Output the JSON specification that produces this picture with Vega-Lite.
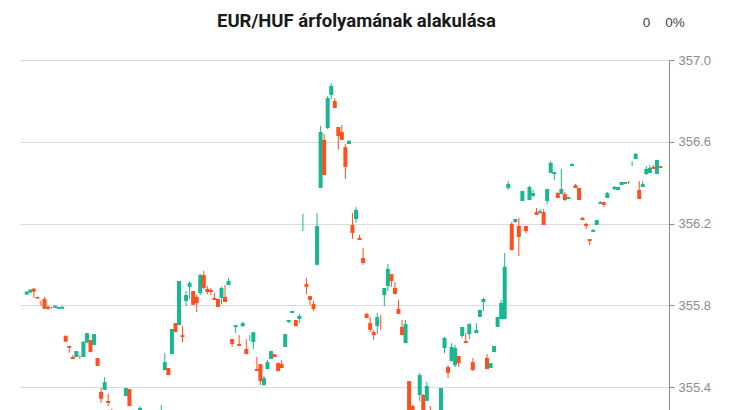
{
  "$schema": "https://vega.github.io/schema/vega-lite/v6.json",
  "width": 649,
  "height": 350,
  "autosize": {"type": "none"},
  "padding": {"left": 20, "top": 60, "right": 61, "bottom": 0},
  "background": "white",
  "title": {
    "text": "EUR/HUF árfolyamának alakulása",
    "font": "Roboto",
    "fontSize": 18.5,
    "fontWeight": "bold",
    "color": "#1a1a1a",
    "anchor": "middle",
    "frame": "group",
    "dx": 12,
    "offset": -15
  },
  "config": {
    "view": {"stroke": null}
  },
  "data": {
    "values": [
      {"i": 0, "o": 355.852, "h": 355.867, "l": 355.852, "c": 355.867},
      {"i": 1, "o": 355.862, "h": 355.877, "l": 355.862, "c": 355.877},
      {"i": 2, "o": 355.881, "h": 355.885, "l": 355.837, "c": 355.867},
      {"i": 3, "o": 355.841, "h": 355.841, "l": 355.833, "c": 355.833},
      {"i": 4, "o": 355.812, "h": 355.823, "l": 355.798, "c": 355.811},
      {"i": 5, "o": 355.831, "h": 355.841, "l": 355.783, "c": 355.783},
      {"i": 6, "o": 355.793, "h": 355.798, "l": 355.778, "c": 355.783},
      {"i": 7, "o": 355.789, "h": 355.792, "l": 355.783, "c": 355.788},
      {"i": 8, "o": 355.788, "h": 355.798, "l": 355.788, "c": 355.798},
      {"i": 9, "o": 355.783, "h": 355.792, "l": 355.783, "c": 355.792},
      {"i": 10, "o": 355.783, "h": 355.798, "l": 355.783, "c": 355.792},
      {"i": 11, "o": 355.651, "h": 355.651, "l": 355.622, "c": 355.622},
      {"i": 12, "o": 355.601, "h": 355.601, "l": 355.568, "c": 355.592},
      {"i": 13, "o": 355.547, "h": 355.557, "l": 355.537, "c": 355.537},
      {"i": 14, "o": 355.547, "h": 355.576, "l": 355.547, "c": 355.576},
      {"i": 15, "o": 355.548, "h": 355.557, "l": 355.537, "c": 355.547},
      {"i": 16, "o": 355.547, "h": 355.622, "l": 355.547, "c": 355.622},
      {"i": 17, "o": 355.617, "h": 355.664, "l": 355.617, "c": 355.664},
      {"i": 18, "o": 355.630, "h": 355.630, "l": 355.571, "c": 355.571},
      {"i": 19, "o": 355.606, "h": 355.659, "l": 355.606, "c": 355.659},
      {"i": 20, "o": 355.542, "h": 355.542, "l": 355.503, "c": 355.503},
      {"i": 21, "o": 355.376, "h": 355.395, "l": 355.322, "c": 355.342},
      {"i": 22, "o": 355.386, "h": 355.449, "l": 355.386, "c": 355.424},
      {"i": 23, "o": 355.332, "h": 355.366, "l": 355.307, "c": 355.322},
      {"i": 24, "o": 355.273, "h": 355.293, "l": 355.219, "c": 355.239},
      {"i": 28, "o": 355.356, "h": 355.395, "l": 355.356, "c": 355.395},
      {"i": 29, "o": 355.390, "h": 355.390, "l": 355.307, "c": 355.307},
      {"i": 32, "o": 355.239, "h": 355.307, "l": 355.214, "c": 355.298},
      {"i": 38, "o": 355.214, "h": 355.312, "l": 355.200, "c": 355.278},
      {"i": 39, "o": 355.483, "h": 355.566, "l": 355.483, "c": 355.522},
      {"i": 40, "o": 355.493, "h": 355.493, "l": 355.459, "c": 355.459},
      {"i": 41, "o": 355.561, "h": 355.684, "l": 355.561, "c": 355.684},
      {"i": 42, "o": 355.713, "h": 355.713, "l": 355.669, "c": 355.669},
      {"i": 43, "o": 355.703, "h": 355.919, "l": 355.703, "c": 355.919},
      {"i": 44, "o": 355.654, "h": 355.698, "l": 355.620, "c": 355.645},
      {"i": 45, "o": 355.821, "h": 355.870, "l": 355.796, "c": 355.850},
      {"i": 46, "o": 355.890, "h": 355.919, "l": 355.831, "c": 355.909},
      {"i": 47, "o": 355.870, "h": 355.870, "l": 355.802, "c": 355.802},
      {"i": 48, "o": 355.841, "h": 355.850, "l": 355.767, "c": 355.811},
      {"i": 49, "o": 355.860, "h": 355.953, "l": 355.850, "c": 355.948},
      {"i": 50, "o": 355.948, "h": 355.968, "l": 355.880, "c": 355.885},
      {"i": 51, "o": 355.880, "h": 355.894, "l": 355.855, "c": 355.865},
      {"i": 52, "o": 355.875, "h": 355.885, "l": 355.850, "c": 355.865},
      {"i": 53, "o": 355.836, "h": 355.860, "l": 355.826, "c": 355.826},
      {"i": 54, "o": 355.831, "h": 355.831, "l": 355.792, "c": 355.792},
      {"i": 55, "o": 355.836, "h": 355.890, "l": 355.806, "c": 355.885},
      {"i": 56, "o": 355.841, "h": 355.899, "l": 355.816, "c": 355.816},
      {"i": 57, "o": 355.899, "h": 355.934, "l": 355.899, "c": 355.919},
      {"i": 58, "o": 355.635, "h": 355.635, "l": 355.596, "c": 355.611},
      {"i": 59, "o": 355.694, "h": 355.703, "l": 355.664, "c": 355.703},
      {"i": 60, "o": 355.611, "h": 355.654, "l": 355.601, "c": 355.601},
      {"i": 61, "o": 355.698, "h": 355.718, "l": 355.694, "c": 355.713},
      {"i": 62, "o": 355.586, "h": 355.635, "l": 355.561, "c": 355.561},
      {"i": 63, "o": 355.640, "h": 355.654, "l": 355.625, "c": 355.640},
      {"i": 64, "o": 355.620, "h": 355.669, "l": 355.586, "c": 355.669},
      {"i": 65, "o": 355.488, "h": 355.547, "l": 355.478, "c": 355.478},
      {"i": 66, "o": 355.512, "h": 355.512, "l": 355.410, "c": 355.429},
      {"i": 67, "o": 355.410, "h": 355.454, "l": 355.405, "c": 355.444},
      {"i": 68, "o": 355.488, "h": 355.532, "l": 355.488, "c": 355.522},
      {"i": 69, "o": 355.537, "h": 355.576, "l": 355.537, "c": 355.576},
      {"i": 70, "o": 355.561, "h": 355.561, "l": 355.547, "c": 355.547},
      {"i": 71, "o": 355.517, "h": 355.522, "l": 355.478, "c": 355.478},
      {"i": 72, "o": 355.512, "h": 355.532, "l": 355.493, "c": 355.493},
      {"i": 73, "o": 355.596, "h": 355.659, "l": 355.596, "c": 355.659},
      {"i": 74, "o": 355.718, "h": 355.728, "l": 355.713, "c": 355.728},
      {"i": 75, "o": 355.762, "h": 355.772, "l": 355.762, "c": 355.772},
      {"i": 76, "o": 355.728, "h": 355.728, "l": 355.698, "c": 355.698},
      {"i": 77, "o": 355.733, "h": 355.758, "l": 355.713, "c": 355.748},
      {"i": 78, "o": 356.166, "h": 356.247, "l": 356.163, "c": 356.166},
      {"i": 79, "o": 355.904, "h": 355.934, "l": 355.855, "c": 355.890},
      {"i": 80, "o": 355.845, "h": 355.845, "l": 355.802, "c": 355.826},
      {"i": 81, "o": 355.806, "h": 355.821, "l": 355.772, "c": 355.782},
      {"i": 82, "o": 355.998, "h": 356.252, "l": 355.998, "c": 356.188},
      {"i": 83, "o": 356.374, "h": 356.677, "l": 356.374, "c": 356.648},
      {"i": 84, "o": 356.609, "h": 356.638, "l": 356.437, "c": 356.437},
      {"i": 85, "o": 356.667, "h": 356.824, "l": 356.662, "c": 356.814},
      {"i": 86, "o": 356.829, "h": 356.887, "l": 356.809, "c": 356.873},
      {"i": 87, "o": 356.799, "h": 356.814, "l": 356.765, "c": 356.765},
      {"i": 88, "o": 356.672, "h": 356.672, "l": 356.560, "c": 356.628},
      {"i": 89, "o": 356.648, "h": 356.682, "l": 356.609, "c": 356.609},
      {"i": 90, "o": 356.574, "h": 356.589, "l": 356.418, "c": 356.477},
      {"i": 91, "o": 356.589, "h": 356.609, "l": 356.589, "c": 356.604},
      {"i": 92, "o": 356.193, "h": 356.252, "l": 356.124, "c": 356.154},
      {"i": 93, "o": 356.222, "h": 356.281, "l": 356.203, "c": 356.266},
      {"i": 94, "o": 356.129, "h": 356.144, "l": 356.119, "c": 356.119},
      {"i": 95, "o": 356.031, "h": 356.080, "l": 355.998, "c": 356.007},
      {"i": 96, "o": 355.758, "h": 355.762, "l": 355.738, "c": 355.738},
      {"i": 97, "o": 355.713, "h": 355.743, "l": 355.669, "c": 355.679},
      {"i": 98, "o": 355.669, "h": 355.679, "l": 355.630, "c": 355.654},
      {"i": 99, "o": 355.698, "h": 355.762, "l": 355.659, "c": 355.743},
      {"i": 100, "o": 355.717, "h": 355.753, "l": 355.679, "c": 355.716},
      {"i": 101, "o": 355.850, "h": 355.885, "l": 355.796, "c": 355.885},
      {"i": 102, "o": 355.894, "h": 356.002, "l": 355.870, "c": 355.978},
      {"i": 103, "o": 355.953, "h": 355.953, "l": 355.890, "c": 355.919},
      {"i": 104, "o": 355.885, "h": 355.914, "l": 355.855, "c": 355.855},
      {"i": 105, "o": 355.782, "h": 355.826, "l": 355.758, "c": 355.758},
      {"i": 106, "o": 355.694, "h": 355.728, "l": 355.654, "c": 355.654},
      {"i": 107, "o": 355.615, "h": 355.728, "l": 355.615, "c": 355.708},
      {"i": 108, "o": 355.429, "h": 355.429, "l": 355.249, "c": 355.249},
      {"i": 109, "o": 355.307, "h": 355.312, "l": 355.239, "c": 355.239},
      {"i": 111, "o": 355.361, "h": 355.469, "l": 355.332, "c": 355.459},
      {"i": 112, "o": 355.361, "h": 355.366, "l": 355.239, "c": 355.239},
      {"i": 113, "o": 355.332, "h": 355.424, "l": 355.332, "c": 355.405},
      {"i": 114, "o": 355.278, "h": 355.307, "l": 355.230, "c": 355.239},
      {"i": 117, "o": 355.263, "h": 355.395, "l": 355.254, "c": 355.395},
      {"i": 118, "o": 355.591, "h": 355.645, "l": 355.566, "c": 355.640},
      {"i": 119, "o": 355.498, "h": 355.507, "l": 355.444, "c": 355.469},
      {"i": 120, "o": 355.527, "h": 355.615, "l": 355.527, "c": 355.596},
      {"i": 121, "o": 355.507, "h": 355.606, "l": 355.498, "c": 355.591},
      {"i": 122, "o": 355.552, "h": 355.552, "l": 355.498, "c": 355.517},
      {"i": 123, "o": 355.650, "h": 355.694, "l": 355.640, "c": 355.694},
      {"i": 124, "o": 355.625, "h": 355.664, "l": 355.615, "c": 355.615},
      {"i": 125, "o": 355.659, "h": 355.713, "l": 355.635, "c": 355.708},
      {"i": 126, "o": 355.522, "h": 355.542, "l": 355.478, "c": 355.483},
      {"i": 127, "o": 355.664, "h": 355.713, "l": 355.664, "c": 355.679},
      {"i": 128, "o": 355.743, "h": 355.777, "l": 355.743, "c": 355.777},
      {"i": 129, "o": 355.816, "h": 355.836, "l": 355.772, "c": 355.831},
      {"i": 130, "o": 355.542, "h": 355.561, "l": 355.488, "c": 355.488},
      {"i": 131, "o": 355.493, "h": 355.517, "l": 355.493, "c": 355.517},
      {"i": 132, "o": 355.571, "h": 355.601, "l": 355.571, "c": 355.601},
      {"i": 133, "o": 355.694, "h": 355.743, "l": 355.694, "c": 355.743},
      {"i": 134, "o": 355.733, "h": 355.826, "l": 355.733, "c": 355.811},
      {"i": 135, "o": 355.733, "h": 356.056, "l": 355.733, "c": 355.988},
      {"i": 136, "o": 356.374, "h": 356.408, "l": 356.364, "c": 356.393},
      {"i": 137, "o": 356.198, "h": 356.207, "l": 356.070, "c": 356.070},
      {"i": 138, "o": 356.207, "h": 356.222, "l": 356.203, "c": 356.222},
      {"i": 139, "o": 356.188, "h": 356.227, "l": 356.041, "c": 356.134},
      {"i": 140, "o": 356.310, "h": 356.359, "l": 356.310, "c": 356.359},
      {"i": 141, "o": 356.188, "h": 356.188, "l": 356.154, "c": 356.163},
      {"i": 142, "o": 356.315, "h": 356.384, "l": 356.315, "c": 356.379},
      {"i": 143, "o": 356.335, "h": 356.364, "l": 356.330, "c": 356.349},
      {"i": 144, "o": 356.256, "h": 356.276, "l": 356.242, "c": 356.242},
      {"i": 145, "o": 356.252, "h": 356.271, "l": 356.247, "c": 356.261},
      {"i": 146, "o": 356.256, "h": 356.271, "l": 356.193, "c": 356.193},
      {"i": 147, "o": 356.310, "h": 356.369, "l": 356.296, "c": 356.369},
      {"i": 148, "o": 356.447, "h": 356.506, "l": 356.447, "c": 356.496},
      {"i": 149, "o": 356.442, "h": 356.452, "l": 356.413, "c": 356.452},
      {"i": 150, "o": 356.349, "h": 356.354, "l": 356.325, "c": 356.325},
      {"i": 151, "o": 356.344, "h": 356.467, "l": 356.344, "c": 356.369},
      {"i": 152, "o": 356.344, "h": 356.354, "l": 356.310, "c": 356.315},
      {"i": 153, "o": 356.320, "h": 356.330, "l": 356.320, "c": 356.330},
      {"i": 154, "o": 356.481, "h": 356.496, "l": 356.481, "c": 356.491},
      {"i": 155, "o": 356.388, "h": 356.393, "l": 356.374, "c": 356.374},
      {"i": 156, "o": 356.374, "h": 356.374, "l": 356.315, "c": 356.315},
      {"i": 157, "o": 356.227, "h": 356.232, "l": 356.217, "c": 356.217},
      {"i": 158, "o": 356.198, "h": 356.203, "l": 356.173, "c": 356.188},
      {"i": 159, "o": 356.124, "h": 356.124, "l": 356.095, "c": 356.114},
      {"i": 160, "o": 356.159, "h": 356.173, "l": 356.159, "c": 356.168},
      {"i": 161, "o": 356.193, "h": 356.217, "l": 356.193, "c": 356.217},
      {"i": 162, "o": 356.296, "h": 356.310, "l": 356.296, "c": 356.305},
      {"i": 163, "o": 356.305, "h": 356.305, "l": 356.281, "c": 356.291},
      {"i": 164, "o": 356.325, "h": 356.354, "l": 356.325, "c": 356.349},
      {"i": 166, "o": 356.369, "h": 356.384, "l": 356.364, "c": 356.379},
      {"i": 167, "o": 356.364, "h": 356.379, "l": 356.364, "c": 356.379},
      {"i": 168, "o": 356.388, "h": 356.403, "l": 356.388, "c": 356.403},
      {"i": 169, "o": 356.393, "h": 356.403, "l": 356.393, "c": 356.403},
      {"i": 170, "o": 356.402, "h": 356.408, "l": 356.393, "c": 356.401},
      {"i": 171, "o": 356.494, "h": 356.506, "l": 356.481, "c": 356.494},
      {"i": 172, "o": 356.516, "h": 356.545, "l": 356.516, "c": 356.540},
      {"i": 173, "o": 356.364, "h": 356.408, "l": 356.320, "c": 356.320},
      {"i": 174, "o": 356.379, "h": 356.408, "l": 356.379, "c": 356.393},
      {"i": 175, "o": 356.442, "h": 356.481, "l": 356.437, "c": 356.467},
      {"i": 176, "o": 356.447, "h": 356.486, "l": 356.447, "c": 356.472},
      {"i": 177, "o": 356.477, "h": 356.486, "l": 356.467, "c": 356.467},
      {"i": 178, "o": 356.442, "h": 356.511, "l": 356.442, "c": 356.511},
      {"i": 179, "o": 356.481, "h": 356.481, "l": 356.472, "c": 356.472}
    ]
  },
  "encoding": {
    "x": {
      "field": "i",
      "type": "quantitative",
      "scale": {"domain": [-0.5, 180], "nice": false, "zero": false},
      "axis": null
    },
    "color": {
      "condition": {"test": "datum.c >= datum.o", "value": "#17b890"},
      "value": "#ff4f1f"
    }
  },
  "layer": [
    {
      "mark": {"type": "rule", "strokeWidth": 1, "clip": true},
      "encoding": {
        "y": {
          "field": "l",
          "type": "quantitative",
          "scale": {"domain": [355.2877, 357.0], "nice": false, "zero": false},
          "axis": {
            "orient": "right",
            "values": [355.4, 355.8, 356.2, 356.6, 357.0],
            "format": ".1f",
            "grid": true,
            "gridColor": "#dcdcdc",
            "domainColor": "#8c8c8c",
            "tickColor": "#8c8c8c",
            "tickSize": 5,
            "labelColor": "#8c8c8c",
            "labelFont": "Liberation Sans",
            "labelFontSize": 13,
            "labelPadding": 4,
            "title": "0\u00a0\u00a0\u00a0\u00a00%",
            "titleAngle": 0,
            "titleX": -26.7,
            "titleY": -34,
            "titleAlign": "left",
            "titleBaseline": "alphabetic",
            "titleFont": "Liberation Sans",
            "titleFontSize": 13.5,
            "titleFontWeight": "normal",
            "titleColor": "#444444"
          }
        },
        "y2": {"field": "h"}
      }
    },
    {
      "mark": {"type": "bar", "size": 4, "clip": true},
      "encoding": {
        "y": {
          "field": "o",
          "type": "quantitative",
          "axis": {
            "orient": "right",
            "values": [355.4, 355.8, 356.2, 356.6, 357.0],
            "format": ".1f",
            "grid": true,
            "gridColor": "#dcdcdc",
            "domainColor": "#8c8c8c",
            "tickColor": "#8c8c8c",
            "tickSize": 5,
            "labelColor": "#8c8c8c",
            "labelFont": "Liberation Sans",
            "labelFontSize": 13,
            "labelPadding": 4,
            "title": "0\u00a0\u00a0\u00a0\u00a00%",
            "titleAngle": 0,
            "titleX": -26.7,
            "titleY": -34,
            "titleAlign": "left",
            "titleBaseline": "alphabetic",
            "titleFont": "Liberation Sans",
            "titleFontSize": 13.5,
            "titleFontWeight": "normal",
            "titleColor": "#444444"
          }
        },
        "y2": {"field": "c"}
      }
    }
  ]
}
